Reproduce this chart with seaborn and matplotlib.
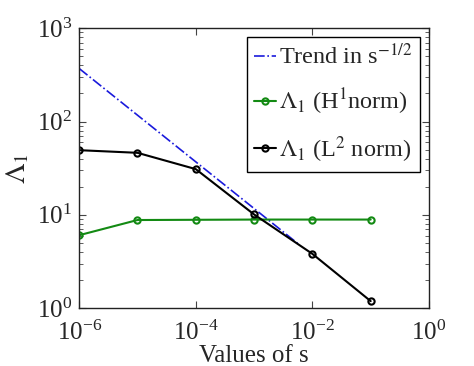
import numpy as np
import pandas as pd
import matplotlib
matplotlib.use("Agg")
import matplotlib.pyplot as plt
import seaborn as sns
from matplotlib.ticker import LogLocator, NullLocator

sns.set_style("ticks")
plt.rcParams["font.family"] = ["Liberation Serif", "DejaVu Serif"]
plt.rcParams["mathtext.fontset"] = "stix"

# values of s
s_vals = [1e-6, 1e-5, 1e-4, 1e-3, 1e-2, 1e-1]
lam_h1 = [6.05, 8.8, 8.85, 8.9, 8.9, 8.9]
lam_l2 = [49.3, 46.2, 30.9, 10.1, 3.82, 1.19]

# reference trend in s^(-1/2)
trend_s = [1e-6, 5.6e-3]
trend_vals = [370.0, 4.94]

fig, ax = plt.subplots(figsize=(4.74, 3.66), dpi=100)
fig.subplots_adjust(left=0.167, right=0.905, bottom=0.158, top=0.923)

sns.lineplot(x=trend_s, y=trend_vals, ax=ax, color="#1a1adc", lw=1.2,
             linestyle="-.", label="Trend in s$^{-1/2}$")
sns.lineplot(x=s_vals, y=lam_h1, ax=ax, color="#138a13", lw=1.5, marker="o",
             markersize=4.5, markeredgecolor="#138a13", markerfacecolor="none",
             markeredgewidth=1.5, label=r"$\mathrm{\Lambda}_1$ (H$^1$norm)")
sns.lineplot(x=s_vals, y=lam_l2, ax=ax, color="black", lw=1.5, marker="o",
             markersize=4.5, markeredgecolor="black", markerfacecolor="none",
             markeredgewidth=1.5, label=r"$\mathrm{\Lambda}_1$ (L$^2$ norm)")

ax.set_xscale("log")
ax.set_yscale("log")
ax.set_xlim(1e-6, 1e0)
ax.set_ylim(1e0, 1e3)

ax.set_xticks([1e-6, 1e-4, 1e-2, 1e0])
ax.xaxis.set_minor_locator(NullLocator())
ax.yaxis.set_major_locator(LogLocator(base=10, numticks=10))
ax.yaxis.set_minor_locator(LogLocator(base=10, subs=np.arange(2, 10), numticks=10))

ax.tick_params(which="both", direction="in", top=True, right=True,
               labelsize=18, color="#444444")
ax.tick_params(which="major", length=5, width=0.8)
ax.tick_params(which="minor", length=3, width=0.6)
ax.tick_params(axis="x", pad=9)
ax.tick_params(axis="y", pad=5)
for sp in ax.spines.values():
    sp.set_linewidth(1.0)
    sp.set_color("#222222")

ax.set_xlabel("Values of s", fontsize=18, labelpad=0)
ax.set_ylabel(r"$\mathrm{\Lambda}_1$", fontsize=21, labelpad=4)

leg = ax.legend(loc="upper right", fontsize=17.5, handlelength=0.9,
                handletextpad=0.15, borderpad=0.3, labelspacing=0.7,
                fancybox=False, framealpha=1, edgecolor="black",
                borderaxespad=0.35)
leg.get_frame().set_linewidth(1.0)

fig.savefig("out.png", dpi=100)
